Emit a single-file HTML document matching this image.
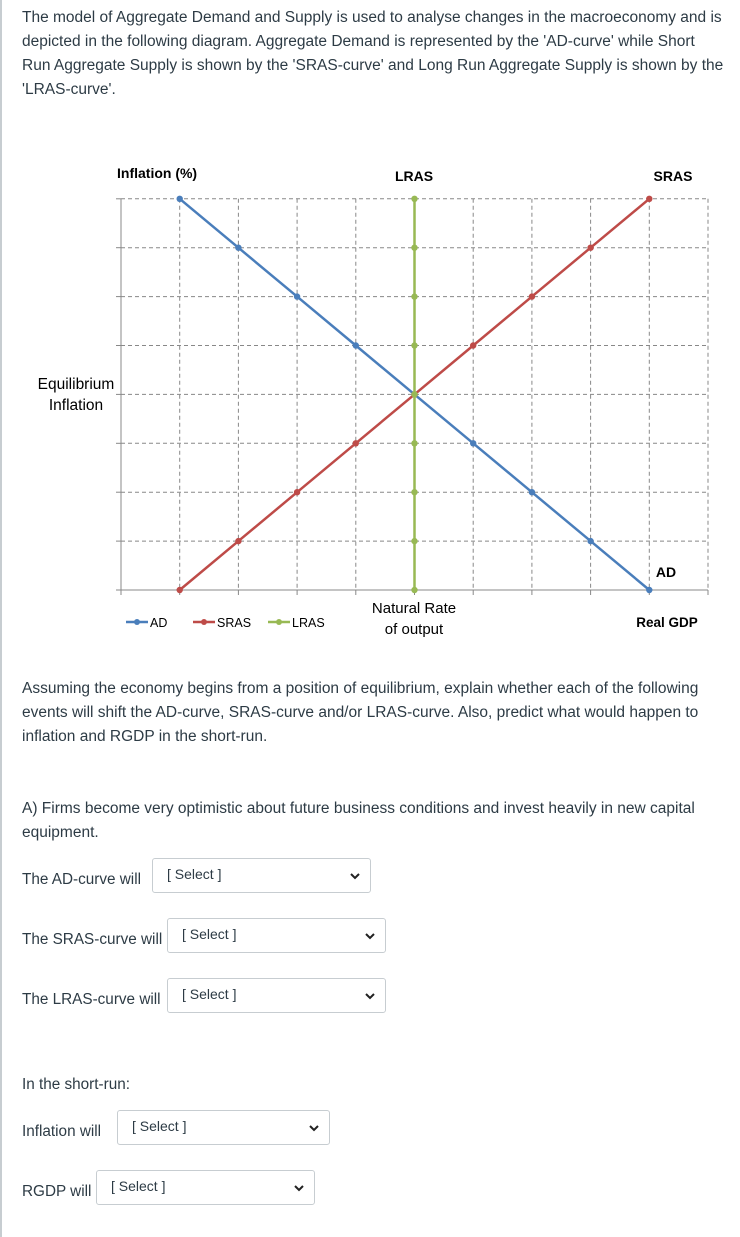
<!DOCTYPE html>
<html><head><meta charset="utf-8">
<style>
body{margin:0;width:740px;height:1237px;background:#fff;position:relative;overflow:hidden;font-family:"Liberation Sans",sans-serif;color:#2d3b45;}
#border{position:absolute;left:0;top:0;width:2px;height:1237px;background:#c7cdd1;}
.t{position:absolute;left:22px;font-size:15.5px;white-space:nowrap;line-height:24px;}
.sel{position:absolute;height:35px;border:1px solid #c7cdd1;border-radius:3px;background:#fff;font-size:14px;box-sizing:border-box;}
.sel span{position:absolute;left:14px;top:7px;color:#2d3b45;}
.sel svg{position:absolute;right:10px;top:14px;}
.lbl{position:absolute;font-size:15.3px;white-space:nowrap;}
</style></head><body>
<div id="border"></div>
<div>
<div class="t" style="top:6px">The model of Aggregate Demand and Supply is used to analyse changes in the macroeconomy and is</div>
<div class="t" style="top:30px">depicted in the following diagram. Aggregate Demand is represented by the 'AD-curve' while Short</div>
<div class="t" style="top:54px">Run Aggregate Supply is shown by the 'SRAS-curve' and Long Run Aggregate Supply is shown by the</div>
<div class="t" style="top:78px">'LRAS-curve'.</div>
</div>
<svg id="chart" style="position:absolute;left:0;top:150px" width="740" height="500"></svg>
<div>
<div class="t" style="top:677px">Assuming the economy begins from a position of equilibrium, explain whether each of the following</div>
<div class="t" style="top:701px">events will shift the AD-curve, SRAS-curve and/or LRAS-curve. Also, predict what would happen to</div>
<div class="t" style="top:725px">inflation and RGDP in the short-run.</div>
<div class="t" style="top:797px">A) Firms become very optimistic about future business conditions and invest heavily in new capital</div>
<div class="t" style="top:821px">equipment.</div>
</div>
<div class="lbl" style="left:22px;top:871px">The AD-curve will</div>
<div class="sel" style="left:152px;top:858px;width:219px"><span>[ Select ]</span><svg width="10" height="7"><path d="M1 1 L5 5 L9 1" stroke="#222" stroke-width="2" fill="none"/></svg></div>
<div class="lbl" style="left:22px;top:931px">The SRAS-curve will</div>
<div class="sel" style="left:167px;top:918px;width:219px"><span>[ Select ]</span><svg width="10" height="7"><path d="M1 1 L5 5 L9 1" stroke="#222" stroke-width="2" fill="none"/></svg></div>
<div class="lbl" style="left:22px;top:991px">The LRAS-curve will</div>
<div class="sel" style="left:167px;top:978px;width:219px"><span>[ Select ]</span><svg width="10" height="7"><path d="M1 1 L5 5 L9 1" stroke="#222" stroke-width="2" fill="none"/></svg></div>
<div class="lbl" style="left:22px;top:1076px">In the short-run:</div>
<div class="lbl" style="left:22px;top:1123px">Inflation will</div>
<div class="sel" style="left:117px;top:1110px;width:213px"><span>[ Select ]</span><svg width="10" height="7"><path d="M1 1 L5 5 L9 1" stroke="#222" stroke-width="2" fill="none"/></svg></div>
<div class="lbl" style="left:22px;top:1183px">RGDP will</div>
<div class="sel" style="left:96px;top:1170px;width:219px"><span>[ Select ]</span><svg width="10" height="7"><path d="M1 1 L5 5 L9 1" stroke="#222" stroke-width="2" fill="none"/></svg></div>
<script>
const xCats=[0,1,2,3,4,5,6,7,8,9,10];
const adX=[1,2,3,4,5,6,7,8,9];
const adY=[8,7,6,5,4,3,2,1,0];
const srasX=[1,2,3,4,5,6,7,8,9];
const srasY=[0,1,2,3,4,5,6,7,8];
const lrasX=[5,5,5,5,5,5,5,5,5];
const lrasY=[0,1,2,3,4,5,6,7,8];
const yTicks=[0,1,2,3,4,5,6,7,8];
const NS='http://www.w3.org/2000/svg';
const svg=document.getElementById('chart');
const OY=150;
function sx(v){return 121+v*58.7;}
function sy(v){return 590-OY-v*48.9;}
function mk(tag,at,parent){const e=document.createElementNS(NS,tag);for(const k in at)e.setAttribute(k,at[k]);(parent||svg).appendChild(e);return e;}
yTicks.forEach(t=>{
 const l=mk('line',{x1:sx(0),x2:sx(10),y1:sy(t),y2:sy(t),stroke:'#888','stroke-dasharray':t===0?'':'4,3','stroke-width':1});
 
 
 const tk=mk('line',{x1:sx(0)-5,x2:sx(0),y1:sy(t),y2:sy(t),stroke:'#888'});
 
 
});
xCats.forEach(c=>{
 const l=mk('line',{x1:sx(c),x2:sx(c),y1:sy(8),y2:sy(0),stroke:'#888','stroke-dasharray':c===0?'':'4,3'});
 
 
 const tk=mk('line',{x1:sx(c),x2:sx(c),y1:sy(0),y2:sy(0)+5,stroke:'#888'});
 
 
});
function series(xs,ys,color,name){
 const g=mk('g',{});
 
 
 const p=mk('polyline',{points:xs.map((x,i)=>sx(x)+','+sy(ys[i])).join(' '),fill:'none',stroke:color,'stroke-width':2.5},g);
 
 
 xs.forEach((x,i)=>{const c=mk('circle',{cx:sx(x),cy:sy(ys[i]),r:3.2,fill:color},g);
 
 });
}
series(adX,adY,'#4a7ebb','ad');
series(srasX,srasY,'#be4b48','sras');
series(lrasX,lrasY,'#98b954','lras');
function txt(x,y,s,opts,name){const t=mk('text',Object.assign({x:x,y:y,'font-size':14,'font-family':'Liberation Sans, sans-serif',fill:'#000'},opts||{}));t.textContent=s;
 
 return t;}
txt(117,28,'Inflation (%)',{'font-weight':'bold'},'y-axis-title');
txt(414,31,'LRAS',{'font-weight':'bold','text-anchor':'middle'},'lras-label');
txt(673,31,'SRAS',{'font-weight':'bold','text-anchor':'middle'},'sras-label');
txt(666,427,'AD',{'font-weight':'bold','text-anchor':'middle'},'ad-label');
txt(76,239,'Equilibrium',{'text-anchor':'middle','font-size':15.5},'equilibrium-label-1');
txt(76,260,'Inflation',{'text-anchor':'middle','font-size':15.5},'equilibrium-label-2');
txt(414,463,'Natural Rate',{'text-anchor':'middle','font-size':15},'natural-rate-label-1');
txt(414,484,'of output',{'text-anchor':'middle','font-size':15},'natural-rate-label-2');
txt(667,477,'Real GDP',{'font-weight':'bold','text-anchor':'middle','font-size':13.5},'x-axis-title');
[['AD','#4a7ebb',126],['SRAS','#be4b48',193],['LRAS','#98b954',268]].forEach(([n,c,x])=>{
 const g=mk('g',{});
 
 
 mk('line',{x1:x,x2:x+22,y1:472,y2:472,stroke:c,'stroke-width':2.5},g);
 mk('circle',{cx:x+11,cy:472,r:3,fill:c},g);
 const t=mk('text',{x:x+24,y:477,'font-size':12.5,'font-family':'Liberation Sans, sans-serif',fill:'#000'},g);t.textContent=n;
});
</script>
</body></html>
